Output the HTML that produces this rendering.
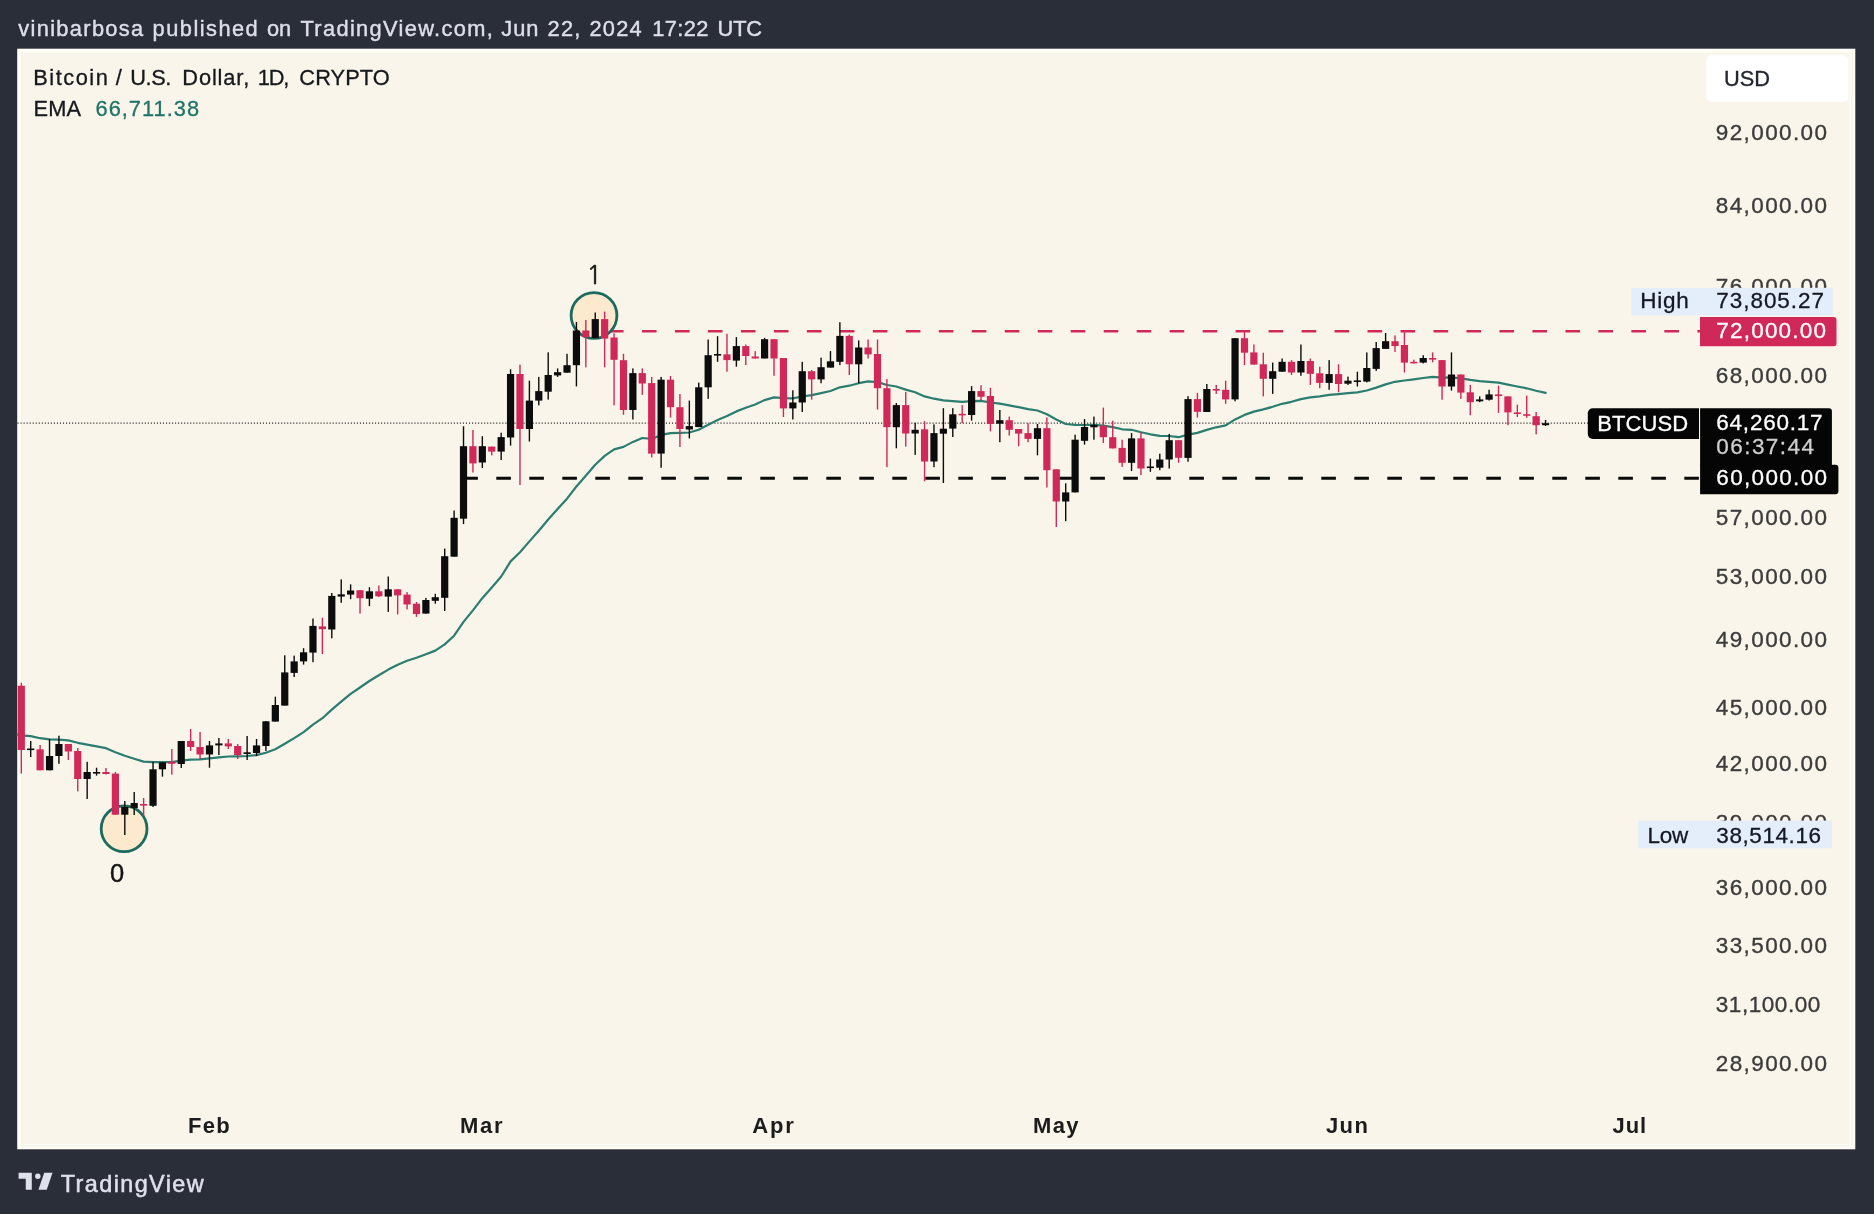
<!DOCTYPE html>
<html lang="en"><head><meta charset="utf-8"><title>BTCUSD chart</title>
<style>
html,body{margin:0;padding:0;background:#2a2e39;}
body{width:1874px;height:1214px;overflow:hidden;}
svg{display:block;will-change:transform;}
text{font-family:"Liberation Sans", Arial, sans-serif;}
.ax{font-size:22.5px;fill:#3b3b3b;stroke:#3b3b3b;stroke-width:0.35px;}
.mo{font-size:22px;font-weight:bold;fill:#1c1c1c;}
</style></head><body>
<svg width="1874" height="1214" viewBox="0 0 1874 1214">
<rect x="0" y="0" width="1874" height="1214" fill="#2a2e39"/>
<rect x="17.2" y="48.7" width="1838.1" height="1100.6" fill="#fefef6"/>
<rect x="21" y="52.5" width="1828.5" height="1092" fill="#faf5ea"/>
<rect x="1851.6" y="52.5" width="0.8" height="1092" fill="#ecebdf"/>
<rect x="21" y="1145.6" width="1829" height="0.8" fill="#ecebdf"/>

<text x="18.3" y="35.8" font-size="21.8" fill="#dcdfe8" textLength="124.9" lengthAdjust="spacing" stroke="#dcdfe8" stroke-width="0.45">vinibarbosa</text>
<text x="152.6" y="35.8" font-size="21.8" fill="#dcdfe8" textLength="105.1" lengthAdjust="spacing" stroke="#dcdfe8" stroke-width="0.45">published</text>
<text x="267" y="35.8" font-size="21.8" fill="#dcdfe8" textLength="24" lengthAdjust="spacing" stroke="#dcdfe8" stroke-width="0.45">on</text>
<text x="300.5" y="35.8" font-size="21.8" fill="#dcdfe8" textLength="192.2" lengthAdjust="spacing" stroke="#dcdfe8" stroke-width="0.45">TradingView.com,</text>
<text x="501.3" y="35.8" font-size="21.8" fill="#dcdfe8" textLength="37.1" lengthAdjust="spacing" stroke="#dcdfe8" stroke-width="0.45">Jun</text>
<text x="547.6" y="35.8" font-size="21.8" fill="#dcdfe8" textLength="32.7" lengthAdjust="spacing" stroke="#dcdfe8" stroke-width="0.45">22,</text>
<text x="589.4" y="35.8" font-size="21.8" fill="#dcdfe8" textLength="52.3" lengthAdjust="spacing" stroke="#dcdfe8" stroke-width="0.45">2024</text>
<text x="652.2" y="35.8" font-size="21.8" fill="#dcdfe8" textLength="56.2" lengthAdjust="spacing" stroke="#dcdfe8" stroke-width="0.45">17:22</text>
<text x="717.6" y="35.8" font-size="21.8" fill="#dcdfe8" textLength="44.4" lengthAdjust="spacing" stroke="#dcdfe8" stroke-width="0.45">UTC</text>
<text x="33.3" y="84.7" font-size="21.8" fill="#17181c" textLength="74.5" lengthAdjust="spacing" stroke="#17181c" stroke-width="0.3">Bitcoin</text>
<text x="115.7" y="84.7" font-size="21.8" fill="#17181c" stroke="#17181c" stroke-width="0.3">/</text>
<text x="130.3" y="84.7" font-size="21.8" fill="#17181c" textLength="41.0" lengthAdjust="spacing" stroke="#17181c" stroke-width="0.3">U.S.</text>
<text x="182.3" y="84.7" font-size="21.8" fill="#17181c" textLength="67.0" lengthAdjust="spacing" stroke="#17181c" stroke-width="0.3">Dollar,</text>
<text x="257.8" y="84.7" font-size="21.8" fill="#17181c" textLength="31.5" lengthAdjust="spacing" stroke="#17181c" stroke-width="0.3">1D,</text>
<text x="299.3" y="84.7" font-size="21.8" fill="#17181c" textLength="90.5" lengthAdjust="spacing" stroke="#17181c" stroke-width="0.3">CRYPTO</text>
<text x="33.6" y="116.3" font-size="21.8" fill="#17181c" textLength="47.4" lengthAdjust="spacing" stroke="#17181c" stroke-width="0.3">EMA</text>
<text x="95.5" y="116.3" font-size="21.8" fill="#1f7468" textLength="103.5" lengthAdjust="spacing" stroke="#1f7468" stroke-width="0.3">66,711.38</text>
<line x1="17.5" y1="423.2" x2="1588" y2="423.2" stroke="#2a2a2a" stroke-width="1.2" stroke-dasharray="1.1 1.93"/>
<line x1="463.3" y1="478.2" x2="1700" y2="478.2" stroke="#0a0a0a" stroke-width="3" stroke-dasharray="14.6 18.4"/>
<line x1="609" y1="331.2" x2="1700" y2="331.2" stroke="#d1285a" stroke-width="2.6" stroke-dasharray="14.6 18.38"/>
<circle cx="124.1" cy="828.8" r="22.9" fill="#fde9cd" stroke="#1b6b5f" stroke-width="2.8"/>
<circle cx="594.0" cy="315.5" r="22.9" fill="#fde9cd" stroke="#1b6b5f" stroke-width="2.8"/>
<path d="M17.5 734.7 L21.3 735.3 L30.7 736.1 L40.1 738.2 L49.5 739.3 L58.9 739.6 L68.3 740.4 L77.8 742.8 L87.2 744.7 L96.6 746.4 L106.0 748.2 L115.4 752.3 L124.8 755.8 L134.2 758.7 L143.6 761.6 L153.0 762.1 L162.4 762.1 L171.8 762.1 L181.3 760.7 L190.7 759.7 L200.1 759.3 L209.5 758.4 L218.9 757.3 L228.3 756.5 L237.7 756.3 L247.1 756.0 L256.5 755.1 L265.9 752.8 L275.3 749.2 L284.8 743.8 L294.2 738.1 L303.6 732.1 L313.0 724.7 L322.4 718.2 L331.8 709.6 L341.2 701.6 L350.6 693.9 L360.0 687.5 L369.4 681.0 L378.8 675.3 L388.3 669.6 L397.7 664.7 L407.1 660.8 L416.5 657.8 L425.9 654.2 L435.3 650.6 L444.7 644.4 L454.1 635.7 L463.5 621.9 L472.9 610.4 L482.3 598.2 L491.8 587.5 L501.2 576.5 L510.6 561.4 L520.0 552.3 L529.4 541.4 L538.8 530.7 L548.2 519.5 L557.6 509.0 L567.0 498.7 L576.4 486.5 L585.8 475.8 L595.2 464.7 L604.7 455.9 L614.1 449.4 L623.5 446.9 L632.9 441.9 L642.3 438.0 L651.7 438.9 L661.1 434.9 L670.5 433.1 L679.9 432.9 L689.3 432.5 L698.7 429.7 L708.2 424.8 L717.6 420.1 L727.0 416.1 L736.4 411.4 L745.8 407.8 L755.2 404.5 L764.6 400.1 L774.0 397.4 L783.4 398.1 L792.8 398.3 L802.2 396.5 L811.7 395.2 L821.1 393.2 L830.5 391.0 L839.9 387.3 L849.3 385.7 L858.7 383.2 L868.1 381.3 L877.5 382.1 L886.9 385.0 L896.3 386.5 L905.7 389.6 L915.2 392.2 L924.6 396.4 L934.0 398.7 L943.4 400.4 L952.8 401.2 L962.2 401.9 L971.6 401.2 L981.0 400.9 L990.4 402.5 L999.8 403.7 L1009.2 405.3 L1018.7 407.2 L1028.1 409.2 L1037.5 410.5 L1046.9 414.3 L1056.3 419.5 L1065.7 424.0 L1075.1 424.9 L1084.5 425.0 L1093.9 424.9 L1103.3 425.6 L1112.7 427.1 L1122.2 429.3 L1131.6 429.8 L1141.0 432.2 L1150.4 434.3 L1159.8 435.8 L1169.2 436.0 L1178.6 437.2 L1188.0 434.6 L1197.4 432.9 L1206.8 429.9 L1216.2 427.3 L1225.7 425.4 L1235.1 419.4 L1244.5 414.9 L1253.9 411.6 L1263.3 409.4 L1272.7 406.8 L1282.1 403.8 L1291.5 401.8 L1300.9 399.1 L1310.3 397.4 L1319.7 396.4 L1329.2 394.9 L1338.6 394.1 L1348.0 393.2 L1357.4 392.3 L1366.8 390.5 L1376.2 387.6 L1385.6 384.4 L1395.0 381.8 L1404.4 380.5 L1413.8 379.3 L1423.2 378.0 L1432.7 376.9 L1442.1 377.6 L1451.5 377.4 L1460.9 378.4 L1470.3 379.9 L1479.7 381.1 L1489.1 381.9 L1498.5 382.7 L1507.9 384.6 L1517.3 386.5 L1526.7 388.3 L1536.1 390.7 L1545.6 392.9" fill="none" stroke="#2b7d70" stroke-width="2.2" stroke-linejoin="round" stroke-linecap="round"/>
<g shape-rendering="auto">
<rect x="20.60" y="682.7" width="1.4" height="90.9" fill="#d1285a"/>
<rect x="17.70" y="685.7" width="7.20" height="64.3" fill="#d1285a"/>
<rect x="30.01" y="741.0" width="1.4" height="16.0" fill="#0c0c0c"/>
<rect x="27.11" y="748.5" width="7.20" height="1.6" fill="#0c0c0c"/>
<rect x="39.42" y="745.0" width="1.4" height="25.3" fill="#d1285a"/>
<rect x="36.52" y="749.3" width="7.20" height="21.0" fill="#d1285a"/>
<rect x="48.83" y="739.0" width="1.4" height="31.3" fill="#0c0c0c"/>
<rect x="45.93" y="756.0" width="7.20" height="14.3" fill="#0c0c0c"/>
<rect x="58.24" y="735.7" width="1.4" height="28.1" fill="#0c0c0c"/>
<rect x="55.34" y="744.0" width="7.20" height="12.0" fill="#0c0c0c"/>
<rect x="67.64" y="744.0" width="1.4" height="16.0" fill="#d1285a"/>
<rect x="64.75" y="744.0" width="7.20" height="7.5" fill="#d1285a"/>
<rect x="77.05" y="748.0" width="1.4" height="43.4" fill="#d1285a"/>
<rect x="74.15" y="751.0" width="7.20" height="28.0" fill="#d1285a"/>
<rect x="86.46" y="761.8" width="1.4" height="37.2" fill="#0c0c0c"/>
<rect x="83.56" y="772.0" width="7.20" height="7.0" fill="#0c0c0c"/>
<rect x="95.87" y="767.7" width="1.4" height="7.9" fill="#0c0c0c"/>
<rect x="92.97" y="772.0" width="7.20" height="1.6" fill="#0c0c0c"/>
<rect x="105.28" y="768.0" width="1.4" height="6.5" fill="#d1285a"/>
<rect x="102.38" y="772.0" width="7.20" height="2.0" fill="#d1285a"/>
<rect x="114.69" y="772.0" width="1.4" height="43.0" fill="#d1285a"/>
<rect x="111.79" y="773.6" width="7.20" height="41.1" fill="#d1285a"/>
<rect x="124.10" y="801.0" width="1.4" height="34.0" fill="#0c0c0c"/>
<rect x="121.20" y="807.0" width="7.20" height="7.7" fill="#0c0c0c"/>
<rect x="133.51" y="792.0" width="1.4" height="23.0" fill="#0c0c0c"/>
<rect x="130.61" y="803.0" width="7.20" height="5.0" fill="#0c0c0c"/>
<rect x="142.92" y="798.0" width="1.4" height="18.0" fill="#d1285a"/>
<rect x="140.02" y="804.0" width="7.20" height="1.6" fill="#d1285a"/>
<rect x="152.33" y="761.8" width="1.4" height="45.2" fill="#0c0c0c"/>
<rect x="149.43" y="769.3" width="7.20" height="36.5" fill="#0c0c0c"/>
<rect x="161.74" y="762.0" width="1.4" height="14.6" fill="#0c0c0c"/>
<rect x="158.84" y="762.4" width="7.20" height="6.9" fill="#0c0c0c"/>
<rect x="171.14" y="749.0" width="1.4" height="25.6" fill="#d1285a"/>
<rect x="168.24" y="761.8" width="7.20" height="2.0" fill="#d1285a"/>
<rect x="180.55" y="741.0" width="1.4" height="27.0" fill="#0c0c0c"/>
<rect x="177.65" y="741.0" width="7.20" height="23.0" fill="#0c0c0c"/>
<rect x="189.96" y="729.0" width="1.4" height="22.0" fill="#d1285a"/>
<rect x="187.06" y="741.0" width="7.20" height="6.0" fill="#d1285a"/>
<rect x="199.37" y="732.0" width="1.4" height="27.0" fill="#d1285a"/>
<rect x="196.47" y="747.0" width="7.20" height="7.5" fill="#d1285a"/>
<rect x="208.78" y="741.0" width="1.4" height="26.7" fill="#0c0c0c"/>
<rect x="205.88" y="745.4" width="7.20" height="9.1" fill="#0c0c0c"/>
<rect x="218.19" y="738.0" width="1.4" height="17.0" fill="#0c0c0c"/>
<rect x="215.29" y="743.4" width="7.20" height="2.0" fill="#0c0c0c"/>
<rect x="227.60" y="739.0" width="1.4" height="10.0" fill="#d1285a"/>
<rect x="224.70" y="743.4" width="7.20" height="3.0" fill="#d1285a"/>
<rect x="237.01" y="744.0" width="1.4" height="15.0" fill="#d1285a"/>
<rect x="234.11" y="746.0" width="7.20" height="9.0" fill="#d1285a"/>
<rect x="246.42" y="736.0" width="1.4" height="24.0" fill="#0c0c0c"/>
<rect x="243.52" y="752.3" width="7.20" height="1.7" fill="#0c0c0c"/>
<rect x="255.83" y="739.0" width="1.4" height="17.0" fill="#0c0c0c"/>
<rect x="252.93" y="745.4" width="7.20" height="7.6" fill="#0c0c0c"/>
<rect x="265.23" y="721.0" width="1.4" height="30.0" fill="#0c0c0c"/>
<rect x="262.33" y="721.3" width="7.20" height="24.7" fill="#0c0c0c"/>
<rect x="274.64" y="696.7" width="1.4" height="24.9" fill="#0c0c0c"/>
<rect x="271.74" y="705.0" width="7.20" height="16.6" fill="#0c0c0c"/>
<rect x="284.05" y="655.3" width="1.4" height="50.3" fill="#0c0c0c"/>
<rect x="281.15" y="672.4" width="7.20" height="33.2" fill="#0c0c0c"/>
<rect x="293.46" y="655.6" width="1.4" height="21.4" fill="#0c0c0c"/>
<rect x="290.56" y="661.4" width="7.20" height="11.5" fill="#0c0c0c"/>
<rect x="302.87" y="648.2" width="1.4" height="16.4" fill="#0c0c0c"/>
<rect x="299.97" y="652.3" width="7.20" height="9.1" fill="#0c0c0c"/>
<rect x="312.28" y="618.5" width="1.4" height="43.7" fill="#0c0c0c"/>
<rect x="309.38" y="625.9" width="7.20" height="26.7" fill="#0c0c0c"/>
<rect x="321.69" y="617.7" width="1.4" height="36.3" fill="#d1285a"/>
<rect x="318.79" y="626.4" width="7.20" height="2.8" fill="#d1285a"/>
<rect x="331.10" y="593.0" width="1.4" height="45.3" fill="#0c0c0c"/>
<rect x="328.20" y="595.9" width="7.20" height="33.6" fill="#0c0c0c"/>
<rect x="340.51" y="579.4" width="1.4" height="23.4" fill="#0c0c0c"/>
<rect x="337.61" y="594.3" width="7.20" height="2.3" fill="#0c0c0c"/>
<rect x="349.92" y="584.4" width="1.4" height="14.8" fill="#0c0c0c"/>
<rect x="347.01" y="590.5" width="7.20" height="4.1" fill="#0c0c0c"/>
<rect x="359.32" y="590.0" width="1.4" height="23.6" fill="#d1285a"/>
<rect x="356.42" y="590.2" width="7.20" height="8.0" fill="#d1285a"/>
<rect x="368.73" y="587.2" width="1.4" height="18.9" fill="#0c0c0c"/>
<rect x="365.83" y="591.3" width="7.20" height="7.4" fill="#0c0c0c"/>
<rect x="378.14" y="585.5" width="1.4" height="11.5" fill="#d1285a"/>
<rect x="375.24" y="591.3" width="7.20" height="5.0" fill="#d1285a"/>
<rect x="387.55" y="576.5" width="1.4" height="35.4" fill="#0c0c0c"/>
<rect x="384.65" y="589.3" width="7.20" height="7.3" fill="#0c0c0c"/>
<rect x="396.96" y="589.0" width="1.4" height="25.4" fill="#d1285a"/>
<rect x="394.06" y="589.3" width="7.20" height="6.1" fill="#d1285a"/>
<rect x="406.37" y="592.1" width="1.4" height="17.3" fill="#d1285a"/>
<rect x="403.47" y="594.6" width="7.20" height="9.9" fill="#d1285a"/>
<rect x="415.78" y="602.0" width="1.4" height="14.9" fill="#d1285a"/>
<rect x="412.88" y="603.7" width="7.20" height="10.3" fill="#d1285a"/>
<rect x="425.19" y="597.9" width="1.4" height="15.7" fill="#0c0c0c"/>
<rect x="422.29" y="600.0" width="7.20" height="13.6" fill="#0c0c0c"/>
<rect x="434.60" y="593.8" width="1.4" height="9.9" fill="#0c0c0c"/>
<rect x="431.70" y="597.2" width="7.20" height="3.6" fill="#0c0c0c"/>
<rect x="444.01" y="548.6" width="1.4" height="62.4" fill="#0c0c0c"/>
<rect x="441.11" y="556.2" width="7.20" height="41.6" fill="#0c0c0c"/>
<rect x="453.41" y="510.5" width="1.4" height="46.2" fill="#0c0c0c"/>
<rect x="450.51" y="517.8" width="7.20" height="38.9" fill="#0c0c0c"/>
<rect x="462.82" y="426.3" width="1.4" height="97.8" fill="#0c0c0c"/>
<rect x="459.92" y="446.2" width="7.20" height="72.5" fill="#0c0c0c"/>
<rect x="472.23" y="430.0" width="1.4" height="42.5" fill="#d1285a"/>
<rect x="469.33" y="446.2" width="7.20" height="17.2" fill="#d1285a"/>
<rect x="481.64" y="436.2" width="1.4" height="31.8" fill="#0c0c0c"/>
<rect x="478.74" y="446.2" width="7.20" height="16.3" fill="#0c0c0c"/>
<rect x="491.05" y="446.6" width="1.4" height="8.8" fill="#d1285a"/>
<rect x="488.15" y="446.6" width="7.20" height="5.0" fill="#d1285a"/>
<rect x="500.46" y="432.7" width="1.4" height="27.3" fill="#0c0c0c"/>
<rect x="497.56" y="437.1" width="7.20" height="14.5" fill="#0c0c0c"/>
<rect x="509.87" y="369.3" width="1.4" height="76.3" fill="#0c0c0c"/>
<rect x="506.97" y="374.0" width="7.20" height="63.5" fill="#0c0c0c"/>
<rect x="519.28" y="364.6" width="1.4" height="120.4" fill="#d1285a"/>
<rect x="516.38" y="374.0" width="7.20" height="55.0" fill="#d1285a"/>
<rect x="528.69" y="380.7" width="1.4" height="60.8" fill="#0c0c0c"/>
<rect x="525.79" y="400.6" width="7.20" height="28.4" fill="#0c0c0c"/>
<rect x="538.09" y="376.9" width="1.4" height="28.4" fill="#0c0c0c"/>
<rect x="535.19" y="391.1" width="7.20" height="9.5" fill="#0c0c0c"/>
<rect x="547.50" y="352.3" width="1.4" height="47.3" fill="#0c0c0c"/>
<rect x="544.60" y="375.0" width="7.20" height="16.7" fill="#0c0c0c"/>
<rect x="556.91" y="368.4" width="1.4" height="8.5" fill="#0c0c0c"/>
<rect x="554.01" y="372.2" width="7.20" height="3.2" fill="#0c0c0c"/>
<rect x="566.32" y="353.8" width="1.4" height="18.9" fill="#0c0c0c"/>
<rect x="563.42" y="365.2" width="7.20" height="7.5" fill="#0c0c0c"/>
<rect x="575.73" y="322.0" width="1.4" height="64.4" fill="#0c0c0c"/>
<rect x="572.83" y="330.5" width="7.20" height="34.7" fill="#0c0c0c"/>
<rect x="585.14" y="320.0" width="1.4" height="47.4" fill="#d1285a"/>
<rect x="582.24" y="330.5" width="7.20" height="6.6" fill="#d1285a"/>
<rect x="594.55" y="312.5" width="1.4" height="25.6" fill="#0c0c0c"/>
<rect x="591.65" y="319.1" width="7.20" height="19.0" fill="#0c0c0c"/>
<rect x="603.96" y="311.6" width="1.4" height="55.8" fill="#d1285a"/>
<rect x="601.06" y="319.1" width="7.20" height="19.5" fill="#d1285a"/>
<rect x="613.37" y="333.3" width="1.4" height="72.0" fill="#d1285a"/>
<rect x="610.47" y="337.5" width="7.20" height="22.3" fill="#d1285a"/>
<rect x="622.78" y="353.8" width="1.4" height="61.0" fill="#d1285a"/>
<rect x="619.88" y="360.2" width="7.20" height="49.8" fill="#d1285a"/>
<rect x="632.18" y="368.4" width="1.4" height="51.1" fill="#0c0c0c"/>
<rect x="629.28" y="373.1" width="7.20" height="36.9" fill="#0c0c0c"/>
<rect x="641.59" y="368.4" width="1.4" height="26.5" fill="#d1285a"/>
<rect x="638.69" y="373.1" width="7.20" height="10.4" fill="#d1285a"/>
<rect x="651.00" y="376.9" width="1.4" height="80.5" fill="#d1285a"/>
<rect x="648.10" y="383.1" width="7.20" height="70.5" fill="#d1285a"/>
<rect x="660.41" y="376.9" width="1.4" height="90.9" fill="#0c0c0c"/>
<rect x="657.51" y="379.7" width="7.20" height="73.9" fill="#0c0c0c"/>
<rect x="669.82" y="376.0" width="1.4" height="41.6" fill="#d1285a"/>
<rect x="666.92" y="379.7" width="7.20" height="27.5" fill="#d1285a"/>
<rect x="679.23" y="394.0" width="1.4" height="53.0" fill="#d1285a"/>
<rect x="676.33" y="407.2" width="7.20" height="21.8" fill="#d1285a"/>
<rect x="688.64" y="400.6" width="1.4" height="37.8" fill="#0c0c0c"/>
<rect x="685.74" y="426.1" width="7.20" height="3.4" fill="#0c0c0c"/>
<rect x="698.05" y="382.6" width="1.4" height="44.5" fill="#0c0c0c"/>
<rect x="695.15" y="387.3" width="7.20" height="39.8" fill="#0c0c0c"/>
<rect x="707.46" y="339.5" width="1.4" height="59.4" fill="#0c0c0c"/>
<rect x="704.56" y="355.2" width="7.20" height="32.1" fill="#0c0c0c"/>
<rect x="716.87" y="336.2" width="1.4" height="25.6" fill="#0c0c0c"/>
<rect x="713.97" y="354.0" width="7.20" height="1.6" fill="#0c0c0c"/>
<rect x="726.27" y="333.8" width="1.4" height="37.9" fill="#d1285a"/>
<rect x="723.38" y="354.4" width="7.20" height="5.7" fill="#d1285a"/>
<rect x="735.68" y="337.1" width="1.4" height="29.6" fill="#0c0c0c"/>
<rect x="732.78" y="346.1" width="7.20" height="14.5" fill="#0c0c0c"/>
<rect x="745.09" y="344.5" width="1.4" height="20.6" fill="#d1285a"/>
<rect x="742.19" y="346.1" width="7.20" height="9.9" fill="#d1285a"/>
<rect x="754.50" y="351.1" width="1.4" height="7.4" fill="#d1285a"/>
<rect x="751.60" y="356.5" width="7.20" height="2.0" fill="#d1285a"/>
<rect x="763.91" y="337.9" width="1.4" height="20.6" fill="#0c0c0c"/>
<rect x="761.01" y="339.2" width="7.20" height="19.3" fill="#0c0c0c"/>
<rect x="773.32" y="339.2" width="1.4" height="36.6" fill="#d1285a"/>
<rect x="770.42" y="339.2" width="7.20" height="19.3" fill="#d1285a"/>
<rect x="782.73" y="358.0" width="1.4" height="59.0" fill="#d1285a"/>
<rect x="779.83" y="358.0" width="7.20" height="50.4" fill="#d1285a"/>
<rect x="792.14" y="390.3" width="1.4" height="29.2" fill="#0c0c0c"/>
<rect x="789.24" y="402.5" width="7.20" height="5.9" fill="#0c0c0c"/>
<rect x="801.55" y="361.8" width="1.4" height="50.2" fill="#0c0c0c"/>
<rect x="798.65" y="371.2" width="7.20" height="31.3" fill="#0c0c0c"/>
<rect x="810.96" y="370.0" width="1.4" height="29.7" fill="#d1285a"/>
<rect x="808.06" y="371.2" width="7.20" height="8.2" fill="#d1285a"/>
<rect x="820.37" y="357.7" width="1.4" height="25.5" fill="#0c0c0c"/>
<rect x="817.47" y="367.2" width="7.20" height="12.2" fill="#0c0c0c"/>
<rect x="829.77" y="351.1" width="1.4" height="16.5" fill="#0c0c0c"/>
<rect x="826.87" y="361.3" width="7.20" height="6.3" fill="#0c0c0c"/>
<rect x="839.18" y="322.2" width="1.4" height="42.9" fill="#0c0c0c"/>
<rect x="836.28" y="335.9" width="7.20" height="25.9" fill="#0c0c0c"/>
<rect x="848.59" y="334.6" width="1.4" height="40.4" fill="#d1285a"/>
<rect x="845.69" y="335.9" width="7.20" height="28.4" fill="#d1285a"/>
<rect x="858.00" y="340.4" width="1.4" height="42.8" fill="#0c0c0c"/>
<rect x="855.10" y="347.5" width="7.20" height="16.8" fill="#0c0c0c"/>
<rect x="867.41" y="339.5" width="1.4" height="19.0" fill="#d1285a"/>
<rect x="864.51" y="347.5" width="7.20" height="6.9" fill="#d1285a"/>
<rect x="876.82" y="339.5" width="1.4" height="70.1" fill="#d1285a"/>
<rect x="873.92" y="354.0" width="7.20" height="34.2" fill="#d1285a"/>
<rect x="886.23" y="379.1" width="1.4" height="88.1" fill="#d1285a"/>
<rect x="883.33" y="388.2" width="7.20" height="39.0" fill="#d1285a"/>
<rect x="895.64" y="403.0" width="1.4" height="45.3" fill="#0c0c0c"/>
<rect x="892.74" y="405.1" width="7.20" height="22.1" fill="#0c0c0c"/>
<rect x="905.05" y="391.9" width="1.4" height="54.7" fill="#d1285a"/>
<rect x="902.15" y="405.1" width="7.20" height="28.4" fill="#d1285a"/>
<rect x="914.45" y="422.8" width="1.4" height="32.1" fill="#0c0c0c"/>
<rect x="911.55" y="429.8" width="7.20" height="3.7" fill="#0c0c0c"/>
<rect x="923.86" y="421.1" width="1.4" height="60.2" fill="#d1285a"/>
<rect x="920.96" y="429.3" width="7.20" height="32.2" fill="#d1285a"/>
<rect x="933.27" y="424.4" width="1.4" height="42.8" fill="#0c0c0c"/>
<rect x="930.37" y="433.1" width="7.20" height="28.4" fill="#0c0c0c"/>
<rect x="942.68" y="408.2" width="1.4" height="74.8" fill="#0c0c0c"/>
<rect x="939.78" y="428.7" width="7.20" height="5.0" fill="#0c0c0c"/>
<rect x="952.09" y="408.2" width="1.4" height="28.8" fill="#0c0c0c"/>
<rect x="949.19" y="414.3" width="7.20" height="14.3" fill="#0c0c0c"/>
<rect x="961.50" y="405.1" width="1.4" height="18.1" fill="#d1285a"/>
<rect x="958.60" y="413.8" width="7.20" height="1.6" fill="#d1285a"/>
<rect x="970.91" y="386.1" width="1.4" height="34.6" fill="#0c0c0c"/>
<rect x="968.01" y="391.1" width="7.20" height="23.9" fill="#0c0c0c"/>
<rect x="980.32" y="385.3" width="1.4" height="14.8" fill="#d1285a"/>
<rect x="977.42" y="391.1" width="7.20" height="5.7" fill="#d1285a"/>
<rect x="989.73" y="387.8" width="1.4" height="43.6" fill="#d1285a"/>
<rect x="986.83" y="396.0" width="7.20" height="28.0" fill="#d1285a"/>
<rect x="999.14" y="410.0" width="1.4" height="32.2" fill="#0c0c0c"/>
<rect x="996.24" y="420.2" width="7.20" height="3.5" fill="#0c0c0c"/>
<rect x="1008.54" y="416.6" width="1.4" height="19.0" fill="#d1285a"/>
<rect x="1005.64" y="420.2" width="7.20" height="9.6" fill="#d1285a"/>
<rect x="1017.95" y="429.0" width="1.4" height="17.3" fill="#d1285a"/>
<rect x="1015.05" y="429.0" width="7.20" height="4.6" fill="#d1285a"/>
<rect x="1027.36" y="423.2" width="1.4" height="19.0" fill="#d1285a"/>
<rect x="1024.46" y="433.1" width="7.20" height="5.8" fill="#d1285a"/>
<rect x="1036.77" y="424.0" width="1.4" height="31.3" fill="#0c0c0c"/>
<rect x="1033.87" y="428.2" width="7.20" height="10.7" fill="#0c0c0c"/>
<rect x="1046.18" y="417.4" width="1.4" height="70.1" fill="#d1285a"/>
<rect x="1043.28" y="428.2" width="7.20" height="42.0" fill="#d1285a"/>
<rect x="1055.59" y="469.3" width="1.4" height="57.7" fill="#d1285a"/>
<rect x="1052.69" y="469.3" width="7.20" height="32.2" fill="#d1285a"/>
<rect x="1065.00" y="483.3" width="1.4" height="37.9" fill="#0c0c0c"/>
<rect x="1062.10" y="492.4" width="7.20" height="9.1" fill="#0c0c0c"/>
<rect x="1074.41" y="434.7" width="1.4" height="57.7" fill="#0c0c0c"/>
<rect x="1071.51" y="439.7" width="7.20" height="52.7" fill="#0c0c0c"/>
<rect x="1083.82" y="419.1" width="1.4" height="25.5" fill="#0c0c0c"/>
<rect x="1080.92" y="427.0" width="7.20" height="13.8" fill="#0c0c0c"/>
<rect x="1093.23" y="416.6" width="1.4" height="23.1" fill="#0c0c0c"/>
<rect x="1090.33" y="424.9" width="7.20" height="2.4" fill="#0c0c0c"/>
<rect x="1102.63" y="407.6" width="1.4" height="35.4" fill="#d1285a"/>
<rect x="1099.74" y="425.7" width="7.20" height="11.5" fill="#d1285a"/>
<rect x="1112.04" y="420.7" width="1.4" height="27.7" fill="#d1285a"/>
<rect x="1109.14" y="437.2" width="7.20" height="11.2" fill="#d1285a"/>
<rect x="1121.45" y="439.7" width="1.4" height="27.2" fill="#d1285a"/>
<rect x="1118.55" y="447.9" width="7.20" height="14.9" fill="#d1285a"/>
<rect x="1130.86" y="433.1" width="1.4" height="37.9" fill="#0c0c0c"/>
<rect x="1127.96" y="438.4" width="7.20" height="24.4" fill="#0c0c0c"/>
<rect x="1140.27" y="432.3" width="1.4" height="42.8" fill="#d1285a"/>
<rect x="1137.37" y="438.4" width="7.20" height="30.1" fill="#d1285a"/>
<rect x="1149.68" y="458.6" width="1.4" height="13.2" fill="#0c0c0c"/>
<rect x="1146.78" y="466.5" width="7.20" height="1.6" fill="#0c0c0c"/>
<rect x="1159.09" y="453.7" width="1.4" height="16.5" fill="#0c0c0c"/>
<rect x="1156.19" y="459.5" width="7.20" height="8.2" fill="#0c0c0c"/>
<rect x="1168.50" y="433.9" width="1.4" height="34.6" fill="#0c0c0c"/>
<rect x="1165.60" y="440.2" width="7.20" height="19.3" fill="#0c0c0c"/>
<rect x="1177.91" y="440.2" width="1.4" height="22.6" fill="#d1285a"/>
<rect x="1175.01" y="440.2" width="7.20" height="17.6" fill="#d1285a"/>
<rect x="1187.32" y="396.2" width="1.4" height="65.5" fill="#0c0c0c"/>
<rect x="1184.42" y="399.1" width="7.20" height="58.8" fill="#0c0c0c"/>
<rect x="1196.72" y="392.9" width="1.4" height="24.7" fill="#d1285a"/>
<rect x="1193.83" y="399.1" width="7.20" height="12.7" fill="#d1285a"/>
<rect x="1206.13" y="384.0" width="1.4" height="28.0" fill="#0c0c0c"/>
<rect x="1203.23" y="389.0" width="7.20" height="23.0" fill="#0c0c0c"/>
<rect x="1215.54" y="384.9" width="1.4" height="9.0" fill="#d1285a"/>
<rect x="1212.64" y="389.0" width="7.20" height="1.6" fill="#d1285a"/>
<rect x="1224.95" y="380.7" width="1.4" height="23.1" fill="#d1285a"/>
<rect x="1222.05" y="389.8" width="7.20" height="9.6" fill="#d1285a"/>
<rect x="1234.36" y="338.2" width="1.4" height="63.1" fill="#0c0c0c"/>
<rect x="1231.46" y="338.2" width="7.20" height="61.2" fill="#0c0c0c"/>
<rect x="1243.77" y="332.1" width="1.4" height="33.0" fill="#d1285a"/>
<rect x="1240.87" y="338.2" width="7.20" height="14.5" fill="#d1285a"/>
<rect x="1253.18" y="344.5" width="1.4" height="20.1" fill="#d1285a"/>
<rect x="1250.28" y="352.4" width="7.20" height="12.2" fill="#d1285a"/>
<rect x="1262.59" y="352.7" width="1.4" height="43.7" fill="#d1285a"/>
<rect x="1259.69" y="364.3" width="7.20" height="14.5" fill="#d1285a"/>
<rect x="1272.00" y="362.6" width="1.4" height="31.3" fill="#0c0c0c"/>
<rect x="1269.10" y="371.2" width="7.20" height="7.6" fill="#0c0c0c"/>
<rect x="1281.41" y="358.5" width="1.4" height="13.2" fill="#0c0c0c"/>
<rect x="1278.51" y="361.8" width="7.20" height="9.9" fill="#0c0c0c"/>
<rect x="1290.82" y="360.1" width="1.4" height="14.9" fill="#d1285a"/>
<rect x="1287.92" y="361.8" width="7.20" height="10.7" fill="#d1285a"/>
<rect x="1300.22" y="344.5" width="1.4" height="31.3" fill="#0c0c0c"/>
<rect x="1297.32" y="361.0" width="7.20" height="11.5" fill="#0c0c0c"/>
<rect x="1309.63" y="358.5" width="1.4" height="26.4" fill="#d1285a"/>
<rect x="1306.73" y="361.0" width="7.20" height="12.8" fill="#d1285a"/>
<rect x="1319.04" y="366.7" width="1.4" height="21.5" fill="#d1285a"/>
<rect x="1316.14" y="373.3" width="7.20" height="9.6" fill="#d1285a"/>
<rect x="1328.45" y="360.1" width="1.4" height="29.7" fill="#0c0c0c"/>
<rect x="1325.55" y="374.1" width="7.20" height="8.8" fill="#0c0c0c"/>
<rect x="1337.86" y="364.3" width="1.4" height="28.0" fill="#d1285a"/>
<rect x="1334.96" y="374.1" width="7.20" height="9.9" fill="#d1285a"/>
<rect x="1347.27" y="376.6" width="1.4" height="8.3" fill="#0c0c0c"/>
<rect x="1344.37" y="380.7" width="7.20" height="3.0" fill="#0c0c0c"/>
<rect x="1356.68" y="371.7" width="1.4" height="14.8" fill="#0c0c0c"/>
<rect x="1353.78" y="380.4" width="7.20" height="1.6" fill="#0c0c0c"/>
<rect x="1366.09" y="352.4" width="1.4" height="30.0" fill="#0c0c0c"/>
<rect x="1363.19" y="368.0" width="7.20" height="13.6" fill="#0c0c0c"/>
<rect x="1375.50" y="342.0" width="1.4" height="28.9" fill="#0c0c0c"/>
<rect x="1372.60" y="348.1" width="7.20" height="20.8" fill="#0c0c0c"/>
<rect x="1384.90" y="333.0" width="1.4" height="15.9" fill="#0c0c0c"/>
<rect x="1382.01" y="341.2" width="7.20" height="7.7" fill="#0c0c0c"/>
<rect x="1394.31" y="335.4" width="1.4" height="16.5" fill="#d1285a"/>
<rect x="1391.41" y="341.2" width="7.20" height="4.9" fill="#d1285a"/>
<rect x="1403.72" y="332.1" width="1.4" height="40.4" fill="#d1285a"/>
<rect x="1400.82" y="345.0" width="7.20" height="17.6" fill="#d1285a"/>
<rect x="1413.13" y="359.6" width="1.4" height="3.8" fill="#d1285a"/>
<rect x="1410.23" y="361.8" width="7.20" height="1.6" fill="#d1285a"/>
<rect x="1422.54" y="355.2" width="1.4" height="8.2" fill="#0c0c0c"/>
<rect x="1419.64" y="358.0" width="7.20" height="4.6" fill="#0c0c0c"/>
<rect x="1431.95" y="352.4" width="1.4" height="9.9" fill="#d1285a"/>
<rect x="1429.05" y="358.0" width="7.20" height="1.6" fill="#d1285a"/>
<rect x="1441.36" y="360.1" width="1.4" height="39.6" fill="#d1285a"/>
<rect x="1438.46" y="360.1" width="7.20" height="26.4" fill="#d1285a"/>
<rect x="1450.77" y="352.4" width="1.4" height="38.2" fill="#0c0c0c"/>
<rect x="1447.87" y="374.5" width="7.20" height="12.0" fill="#0c0c0c"/>
<rect x="1460.18" y="374.5" width="1.4" height="24.4" fill="#d1285a"/>
<rect x="1457.28" y="374.5" width="7.20" height="18.1" fill="#d1285a"/>
<rect x="1469.59" y="384.9" width="1.4" height="30.4" fill="#d1285a"/>
<rect x="1466.69" y="392.3" width="7.20" height="9.9" fill="#d1285a"/>
<rect x="1479.00" y="396.4" width="1.4" height="5.8" fill="#0c0c0c"/>
<rect x="1476.10" y="399.4" width="7.20" height="1.9" fill="#0c0c0c"/>
<rect x="1488.40" y="389.8" width="1.4" height="10.7" fill="#0c0c0c"/>
<rect x="1485.50" y="394.4" width="7.20" height="5.3" fill="#0c0c0c"/>
<rect x="1497.81" y="385.7" width="1.4" height="27.2" fill="#d1285a"/>
<rect x="1494.91" y="394.4" width="7.20" height="1.7" fill="#d1285a"/>
<rect x="1507.22" y="396.4" width="1.4" height="28.8" fill="#d1285a"/>
<rect x="1504.32" y="396.4" width="7.20" height="16.0" fill="#d1285a"/>
<rect x="1516.63" y="404.6" width="1.4" height="12.4" fill="#d1285a"/>
<rect x="1513.73" y="412.4" width="7.20" height="1.6" fill="#d1285a"/>
<rect x="1526.04" y="395.6" width="1.4" height="22.2" fill="#d1285a"/>
<rect x="1523.14" y="414.2" width="7.20" height="1.6" fill="#d1285a"/>
<rect x="1535.45" y="412.0" width="1.4" height="22.3" fill="#d1285a"/>
<rect x="1532.55" y="416.2" width="7.20" height="9.0" fill="#d1285a"/>
<rect x="1544.86" y="420.0" width="1.4" height="6.0" fill="#0c0c0c"/>
<rect x="1541.96" y="423.2" width="7.20" height="2.0" fill="#0c0c0c"/>
</g>
<text x="117.1" y="882.0" font-size="25.5" fill="#141414" text-anchor="middle" stroke="#141414" stroke-width="0.4">0</text>
<text x="594.2" y="284.2" font-size="25.5" fill="#141414" text-anchor="middle" stroke="#141414" stroke-width="0.5" style="font-family:NanumGothic,&quot;Liberation Sans&quot;,sans-serif">1</text>
<rect x="1706.3" y="55.3" width="142" height="46.5" rx="5" fill="#ffffff"/>
<text x="1724.1" y="86" font-size="21.8" fill="#23262f" textLength="46" lengthAdjust="spacing" stroke="#23262f" stroke-width="0.3">USD</text>
<text x="1715.8" y="139.8" class="ax" textLength="111.2" lengthAdjust="spacing">92,000.00</text>
<text x="1715.8" y="213.0" class="ax" textLength="111.2" lengthAdjust="spacing">84,000.00</text>
<text x="1715.8" y="293.5" class="ax" textLength="111.2" lengthAdjust="spacing">76,000.00</text>
<text x="1715.8" y="383.0" class="ax" textLength="111.2" lengthAdjust="spacing">68,000.00</text>
<text x="1715.8" y="525.0" class="ax" textLength="111.2" lengthAdjust="spacing">57,000.00</text>
<text x="1715.8" y="583.5" class="ax" textLength="111.2" lengthAdjust="spacing">53,000.00</text>
<text x="1715.8" y="646.6" class="ax" textLength="111.2" lengthAdjust="spacing">49,000.00</text>
<text x="1715.8" y="715.1" class="ax" textLength="111.2" lengthAdjust="spacing">45,000.00</text>
<text x="1715.8" y="770.6" class="ax" textLength="111.2" lengthAdjust="spacing">42,000.00</text>
<text x="1715.8" y="830.3" class="ax" textLength="111.2" lengthAdjust="spacing">39,000.00</text>
<text x="1715.8" y="894.7" class="ax" textLength="111.2" lengthAdjust="spacing">36,000.00</text>
<text x="1715.8" y="952.6" class="ax" textLength="111.2" lengthAdjust="spacing">33,500.00</text>
<text x="1715.8" y="1071.4" class="ax" textLength="111.2" lengthAdjust="spacing">28,900.00</text>
<text x="1715.8" y="1012.4" class="ax" textLength="104.5" lengthAdjust="spacing">31,100.00</text>
<rect x="1631.3" y="287.8" width="201.6" height="27.8" fill="#e4eefb"/>
<text x="1640.2" y="307.9" font-size="22.5" fill="#141823" textLength="48.5" lengthAdjust="spacing" stroke="#141823" stroke-width="0.3">High</text>
<text x="1716.3" y="307.9" font-size="22.5" fill="#141823" textLength="107.7" lengthAdjust="spacing" stroke="#141823" stroke-width="0.3">73,805.27</text>
<path d="M1700 317h133.5a3 3 0 0 1 3 3v23.2a3 3 0 0 1 -3 3H1700z" fill="#d1285a"/>
<text x="1716.3" y="337.7" font-size="22.5" fill="#ffffff" textLength="109.7" lengthAdjust="spacing" stroke="#ffffff" stroke-width="0.3">72,000.00</text>
<path d="M1592.8 408.3H1699v30.7H1592.8a5 5 0 0 1 -5 -5v-20.7a5 5 0 0 1 5 -5z" fill="#050505"/>
<text x="1597.3" y="430.8" font-size="22" fill="#ffffff" textLength="90.9" lengthAdjust="spacing" stroke="#ffffff" stroke-width="0.3">BTCUSD</text>
<path d="M1700.1 408.3h128.8a3 3 0 0 1 3 3v54.4h-131.8z" fill="#050505"/>
<text x="1716.3" y="429.5" font-size="22.5" fill="#ffffff" textLength="106.3" lengthAdjust="spacing" stroke="#ffffff" stroke-width="0.3">64,260.17</text>
<text x="1716.3" y="454.2" font-size="22.5" fill="#cfcfcf" textLength="97.7" lengthAdjust="spacing" stroke="#cfcfcf" stroke-width="0.3">06:37:44</text>
<path d="M1700.1 464.7h135.3a3 3 0 0 1 3 3v23.6a3 3 0 0 1 -3 3h-135.3z" fill="#050505"/>
<text x="1716.3" y="484.8" font-size="22.5" fill="#ffffff" textLength="110.7" lengthAdjust="spacing" stroke="#ffffff" stroke-width="0.3">60,000.00</text>
<rect x="1638.2" y="820.6" width="193.7" height="27.7" fill="#e4eefb"/>
<text x="1647.5" y="843.2" font-size="22.5" fill="#141823" textLength="40.7" lengthAdjust="spacing" stroke="#141823" stroke-width="0.3">Low</text>
<text x="1716.3" y="843.2" font-size="22.5" fill="#141823" textLength="104.7" lengthAdjust="spacing" stroke="#141823" stroke-width="0.3">38,514.16</text>
<text x="188.0" y="1133" class="mo" textLength="41.7" lengthAdjust="spacing">Feb</text>
<text x="459.9" y="1133" class="mo" textLength="42.6" lengthAdjust="spacing">Mar</text>
<text x="752.3" y="1133" class="mo" textLength="41.6" lengthAdjust="spacing">Apr</text>
<text x="1033.0" y="1133" class="mo" textLength="45.5" lengthAdjust="spacing">May</text>
<text x="1326.0" y="1133" class="mo" textLength="41.9" lengthAdjust="spacing">Jun</text>
<text x="1612.6" y="1133" class="mo" textLength="33.6" lengthAdjust="spacing">Jul</text>
<g fill="#dfe2ea" transform="translate(18.6,1172.8) scale(0.9417,0.939)"><path d="M14 18H7.6V6.4H0V0h14z"/><circle cx="20.4" cy="3.7" r="2.9"/><path d="M29.9 18h-8.85L27.2 0h8.8z"/></g>
<text x="60.8" y="1191.6" font-size="23.4" fill="#dfe2ea" textLength="142.8" lengthAdjust="spacing" stroke="#dfe2ea" stroke-width="0.5">TradingView</text>
</svg></body></html>
